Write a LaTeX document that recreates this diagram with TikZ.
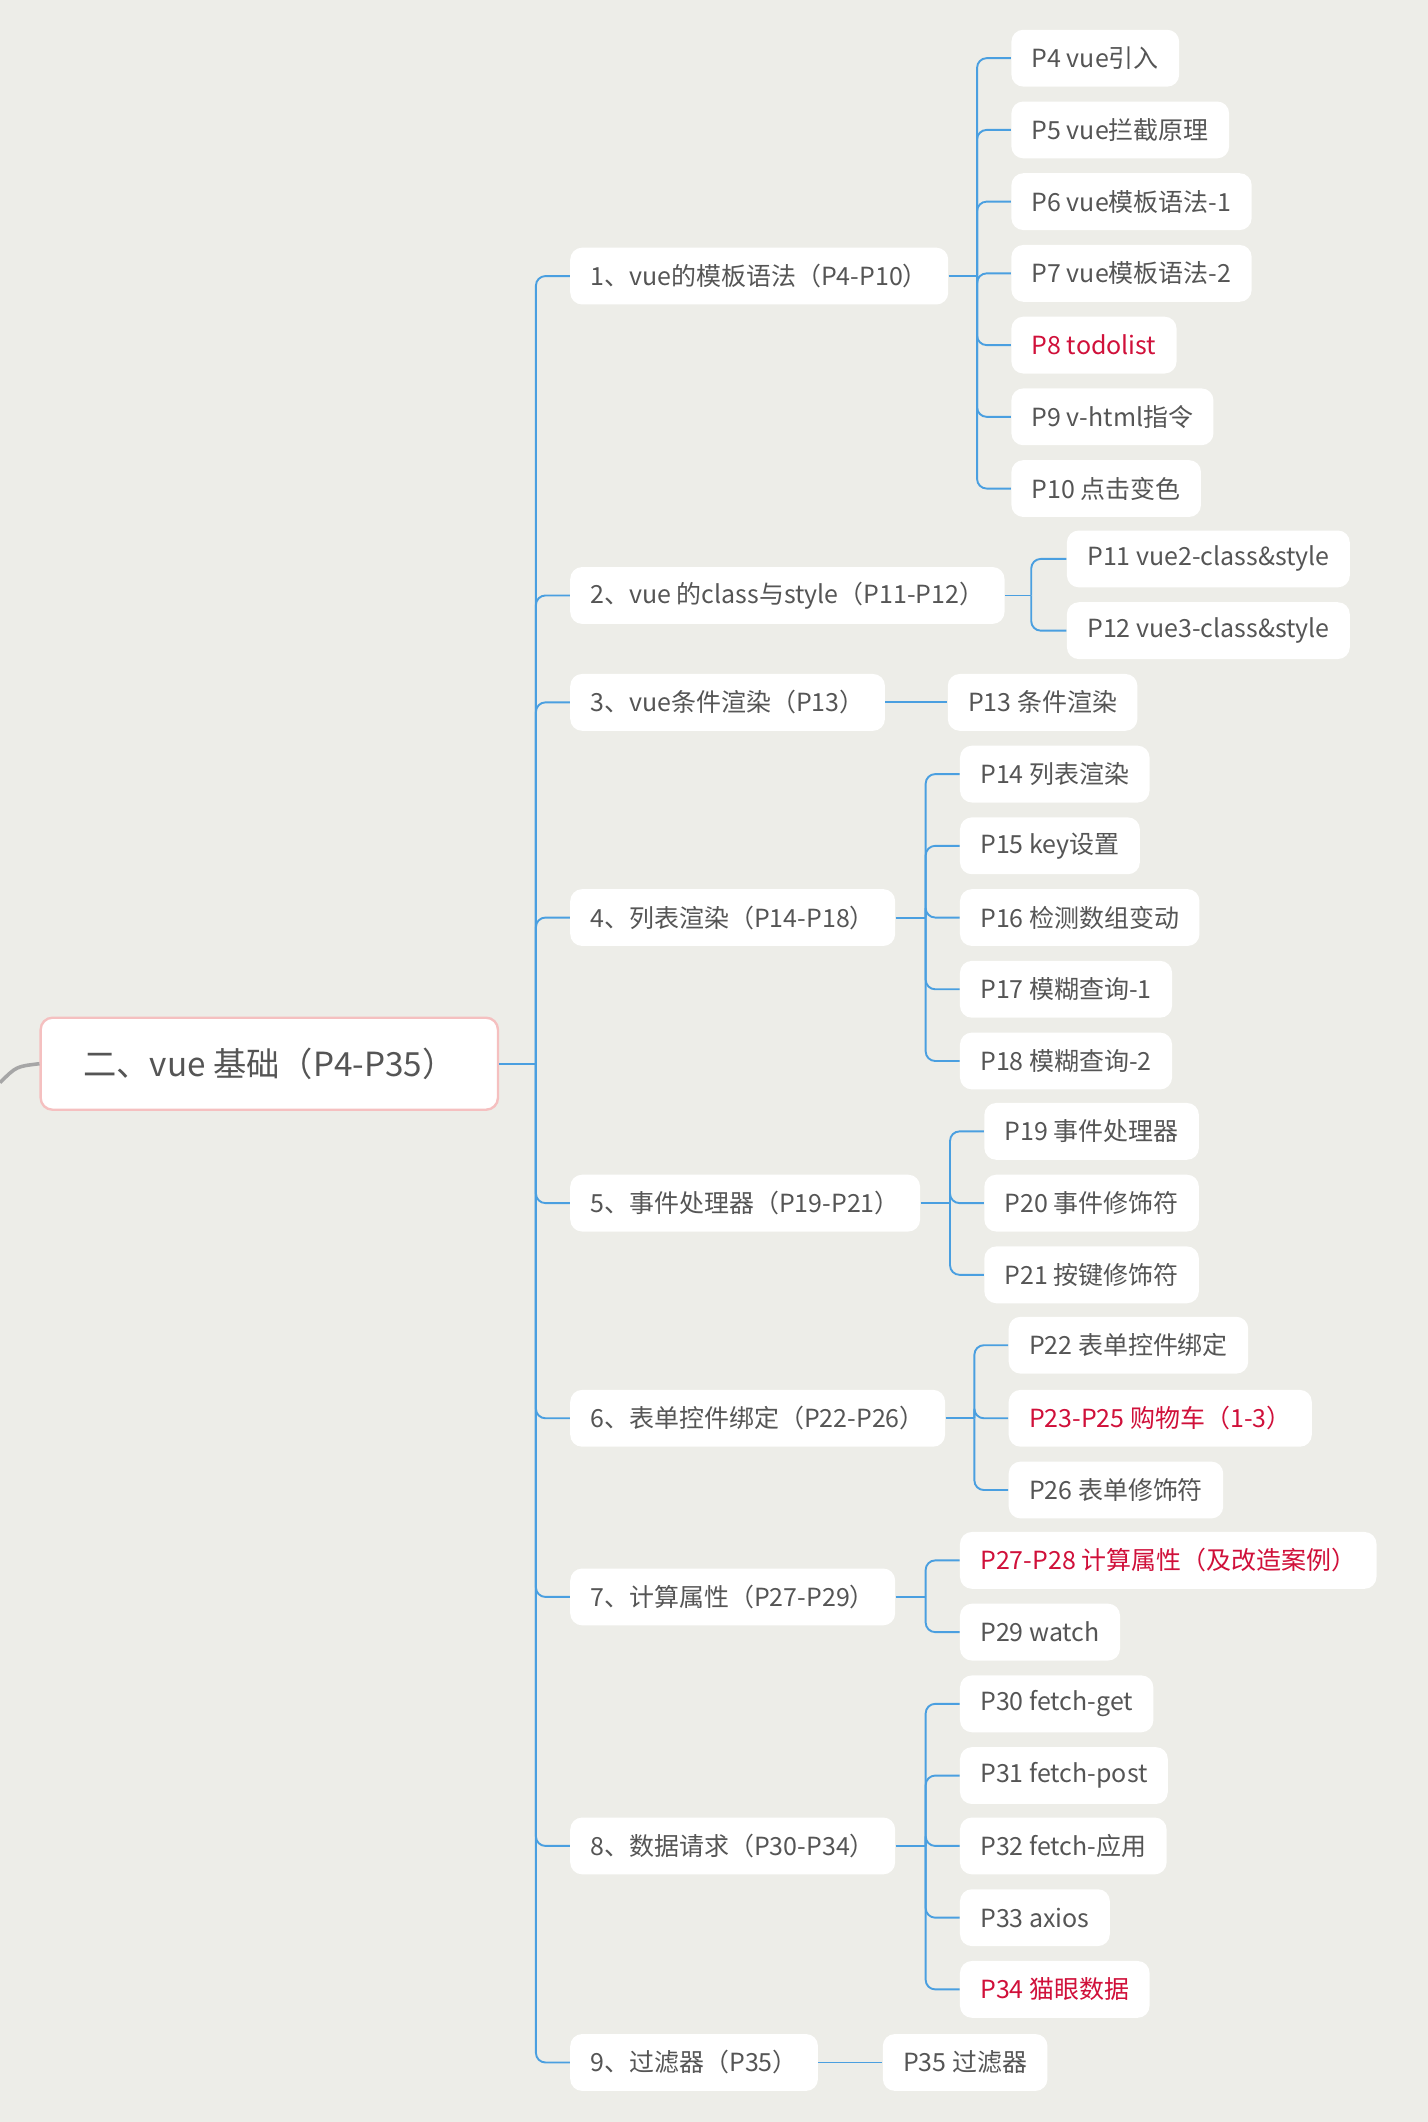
\documentclass[tikz,border=0pt]{standalone}
\usepackage{fontspec}
\setmainfont{Noto Sans CJK SC}
\usetikzlibrary{positioning}
\definecolor{bgcol}{HTML}{EDEDE8}
\definecolor{txtcol}{HTML}{555555}
\definecolor{hotcol}{HTML}{D0103A}
\definecolor{linecol}{HTML}{4A9FE0}
\definecolor{rootborder}{HTML}{F5C0C0}
\tikzset{
    topic/.style={rectangle, rounded corners=5pt, fill=white, draw=none, anchor=west,
        inner xsep=0.3cm, minimum height=0.84cm, text=txtcol, font=\fontsize{10.5}{12}\selectfont},
    hot/.style={topic, text=hotcol},
    link/.style={linecol, line width=0.8pt, rounded corners=4pt}
}
\begin{document}
\begin{tikzpicture}[x=0.02cm, y=-0.02cm]
    \useasboundingbox[fill=bgcol] (0,0) rectangle (1055,1568);

    \node (root) [rectangle, rounded corners=5pt, fill=white, draw=rootborder, line width=1pt,
        minimum width=6.76cm, minimum height=1.36cm, text=txtcol, font=\fontsize{14}{16}\selectfont] at (199,786)
    {
        二、vue 基础（P4-P35）
    };
    \coordinate (parent) at (0,800);
    \draw[gray!70, line width=1.5pt] (parent) .. controls (12,788) .. (root.west);

    % level one
    \node (templ) [topic] at (421,204) {1、vue的模板语法（P4-P10）};
    \node (cls) [topic] at (421,440) {2、vue 的class与style（P11-P12）};
    \node (cond) [topic] at (421,519) {3、vue条件渲染（P13）};
    \node (list) [topic] at (421,678) {4、列表渲染（P14-P18）};
    \node (event) [topic] at (421,889) {5、事件处理器（P19-P21）};
    \node (form) [topic] at (421,1048) {6、表单控件绑定（P22-P26）};
    \node (comp) [topic] at (421,1180) {7、计算属性（P27-P29）};
    \node (fetch) [topic] at (421,1364) {8、数据请求（P30-P34）};
    \node (filt) [topic] at (421,1524) {9、过滤器（P35）};

    % level two
    \node (p4) [topic] at (747,43) {P4 vue引入};
    \node (p5) [topic] at (747,96) {P5 vue拦截原理};
    \node (p6) [topic] at (747,149) {P6 vue模板语法-1};
    \node (p7) [topic] at (747,202) {P7 vue模板语法-2};
    \node (p8) [hot] at (747,255) {P8 todolist};
    \node (p9) [topic] at (747,308) {P9 v-html指令};
    \node (p10) [topic] at (747,361) {P10 点击变色};

    \node (p11) [topic] at (788,413) {P11 vue2-class\&style};
    \node (p12) [topic] at (788,466) {P12 vue3-class\&style};

    \node (p13) [topic] at (700,519) {P13 条件渲染};

    \node (p14) [topic] at (709,572) {P14 列表渲染};
    \node (p15) [topic] at (709,625) {P15 key设置};
    \node (p16) [topic] at (709,678) {P16 检测数组变动};
    \node (p17) [topic] at (709,731) {P17 模糊查询-1};
    \node (p18) [topic] at (709,784) {P18 模糊查询-2};

    \node (p19) [topic] at (727,836) {P19 事件处理器};
    \node (p20) [topic] at (727,889) {P20 事件修饰符};
    \node (p21) [topic] at (727,942) {P21 按键修饰符};

    \node (p22) [topic] at (745,994) {P22 表单控件绑定};
    \node (p23) [hot] at (745,1048) {P23-P25 购物车（1-3）};
    \node (p26) [topic] at (745,1101) {P26 表单修饰符};

    \node (p27) [hot] at (709,1153) {P27-P28 计算属性（及改造案例）};
    \node (p29) [topic] at (709,1206) {P29 watch};

    \node (p30) [topic] at (709,1259) {P30 fetch-get};
    \node (p31) [topic] at (709,1312) {P31 fetch-post};
    \node (p32) [topic] at (709,1364) {P32 fetch-应用};
    \node (p33) [topic] at (709,1417) {P33 axios};
    \node (p34) [hot] at (709,1470) {P34 猫眼数据};

    \node (p35) [topic] at (652,1524) {P35 过滤器};

    % brackets
    \coordinate (b0) at (396,786);
    \coordinate (b1) at (722,204);
    \coordinate (b2) at (762,440);
    \coordinate (b4) at (684,678);
    \coordinate (b5) at (702,889);
    \coordinate (b6) at (720,1048);
    \coordinate (b7) at (684,1180);
    \coordinate (b8) at (684,1364);

    \draw[link] (root.east) -- (b0);
    \foreach \n in {templ,cls,cond,list,event,form,comp,fetch,filt}
        \draw[link] (b0) |- (\n.west);

    \draw[link] (templ.east) -- (b1);
    \foreach \n in {p4,p5,p6,p7,p8,p9,p10}
        \draw[link] (b1) |- (\n.west);
    \draw[link] (cls.east) -- (b2);
    \foreach \n in {p11,p12}
        \draw[link] (b2) |- (\n.west);
    \draw[link] (cond.east) -- (p13.west);
    \draw[link] (list.east) -- (b4);
    \foreach \n in {p14,p15,p16,p17,p18}
        \draw[link] (b4) |- (\n.west);
    \draw[link] (event.east) -- (b5);
    \foreach \n in {p19,p20,p21}
        \draw[link] (b5) |- (\n.west);
    \draw[link] (form.east) -- (b6);
    \foreach \n in {p22,p23,p26}
        \draw[link] (b6) |- (\n.west);
    \draw[link] (comp.east) -- (b7);
    \foreach \n in {p27,p29}
        \draw[link] (b7) |- (\n.west);
    \draw[link] (fetch.east) -- (b8);
    \foreach \n in {p30,p31,p32,p33,p34}
        \draw[link] (b8) |- (\n.west);
    \draw[link] (filt.east) -- (p35.west);
\end{tikzpicture}
\end{document}
